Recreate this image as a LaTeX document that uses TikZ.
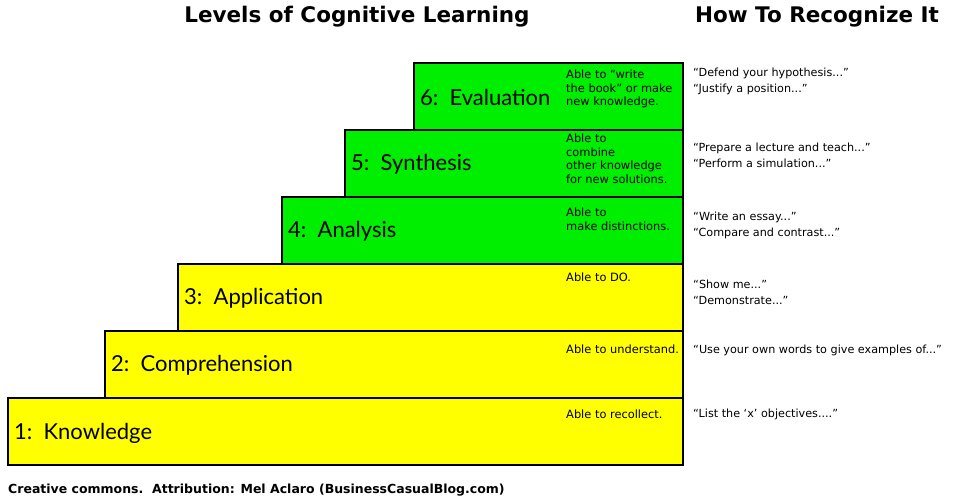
\documentclass[tikz,border=0pt]{standalone}
\usepackage{fontspec}
\setmainfont{Lato}
\newfontfamily\titlefont{DejaVu Sans}
\newfontfamily\smallfont{DejaVu Sans}
\definecolor{gr}{HTML}{00EE00}
\definecolor{ye}{HTML}{FFFF00}
\begin{document}
\begin{tikzpicture}[x=1pt,y=-1pt,
  lvl/.style={draw=black,line width=1.5pt},
  big/.style={anchor=west,font=\fontsize{22}{24}\selectfont,inner sep=0},
  desc/.style={anchor=north west,align=left,font=\smallfont\fontsize{11.4}{13.5}\selectfont,inner sep=0},
  rec/.style={anchor=north west,align=left,font=\smallfont\fontsize{11.2}{16}\selectfont,inner sep=0}]
\useasboundingbox (0,0) rectangle (974,499);
\fill[white] (0,0) rectangle (974,499);
\node[font=\titlefont\bfseries\fontsize{21.5}{23}\selectfont] (t1) at (357,17) {Levels of Cognitive Learning};
\node[font=\titlefont\bfseries\fontsize{21.5}{23}\selectfont] (t2) at (817,17) {How To Recognize It};
\draw[lvl,fill=ye] (8,398) rectangle (683,465);
\draw[lvl,fill=ye] (105,331) rectangle (683,398);
\draw[lvl,fill=ye] (178,264) rectangle (683,331);
\draw[lvl,fill=gr] (282,197) rectangle (683,264);
\draw[lvl,fill=gr] (345,130) rectangle (683,197);
\draw[lvl,fill=gr] (414,63) rectangle (683,130);
\node[big] (l1) at (14,433) {1:\, Knowledge};
\node[big] (l2) at (111,365) {2:\, Comprehension};
\node[big] (l3) at (184,298) {3:\, Application};
\node[big] (l4) at (288,231) {4:\, Analysis};
\node[big] (l5) at (351,164) {5:\, Synthesis};
\node[big] (l6) at (420,97) {6:\, Evaluation};
\node[desc] (d6) at (566,70) {Able to “write\\the book” or make\\new knowledge.};
\node[desc] (d5) at (566,134) {Able to\\combine\\other knowledge\\for new solutions.};
\node[desc] (d4) at (566,208) {Able to\\make distinctions.};
\node[desc] (d3) at (566,273) {Able to DO.};
\node[desc] (d2) at (566,345) {Able to understand.};
\node[desc] (d1) at (566,410) {Able to recollect.};
\node[rec] (r6) at (693,68) {“Defend your hypothesis...”\\“Justify a position...”};
\node[rec] (r5) at (693,143) {“Prepare a lecture and teach...”\\“Perform a simulation...”};
\node[rec] (r4) at (693,212) {“Write an essay...”\\“Compare and contrast...”};
\node[rec] (r3) at (693,280) {“Show me...”\\“Demonstrate...”};
\node[rec] (r2) at (693,345) {“Use your own words to give examples of...”};
\node[rec] (r1) at (693,409) {“List the ‘x’ objectives....”};
\node[anchor=west,font=\titlefont\bfseries\fontsize{12.5}{14}\selectfont,inner sep=0] (cc) at (8,490) {Creative commons.\ \ Attribution: Mel Aclaro (BusinessCasualBlog.com)};
\end{tikzpicture}
\end{document}
